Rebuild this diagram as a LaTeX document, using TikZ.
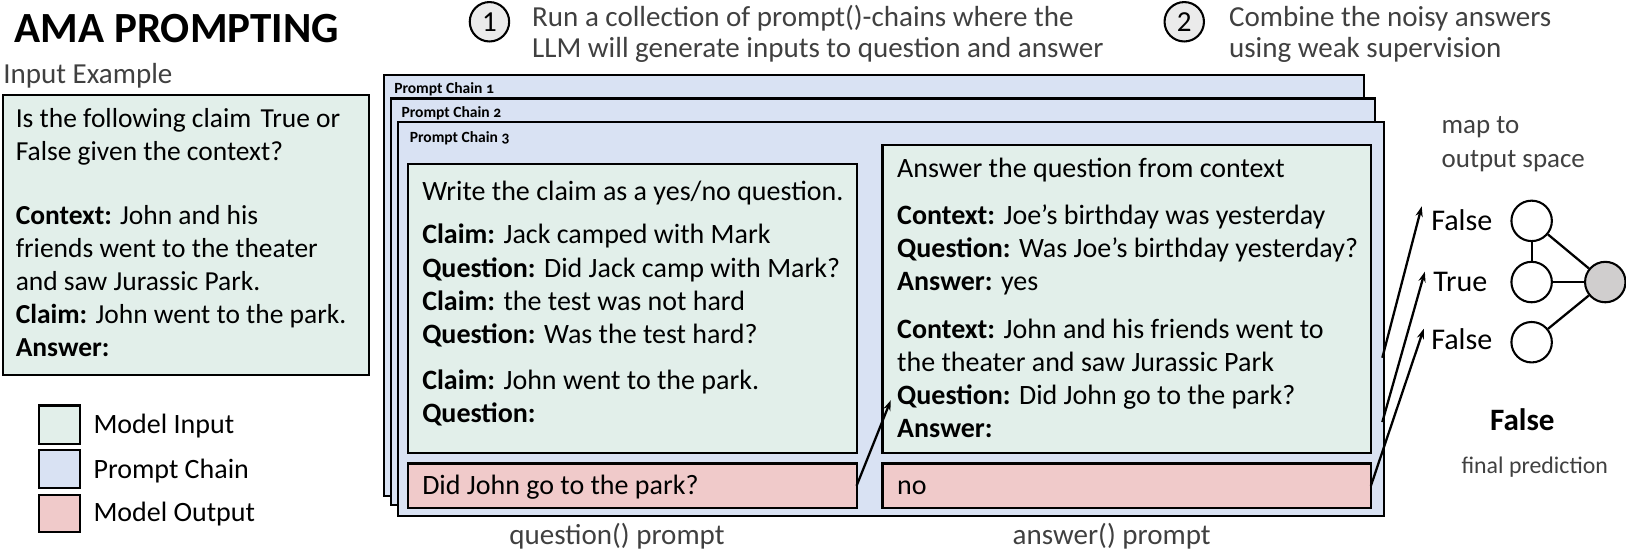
\documentclass[tikz,border=0pt]{standalone}
\usepackage{fontspec}
\setmainfont{Carlito}
\usetikzlibrary{arrows.meta}
\definecolor{inF}{HTML}{E2EFEA}
\definecolor{pcF}{HTML}{D9E2F3}
\definecolor{outF}{HTML}{F0CACA}
\definecolor{noteG}{HTML}{404040}
\definecolor{aggF}{HTML}{D0CECE}
\definecolor{numF}{HTML}{EBEBEB}
\begin{document}
\begin{tikzpicture}[x=1pt,y=-1pt,
  box/.style={draw=black, line width=2pt, outer sep=0pt, inner sep=0pt, anchor=north west},
  inbox/.style={box, fill=inF},
  pcbox/.style={box, fill=pcF},
  outbox/.style={box, fill=outF},
  body/.style={font=\fontsize{27}{32}\selectfont, inner sep=0pt, align=left, anchor=north west},
  line/.style={font=\fontsize{27}{32}\selectfont, inner sep=0pt, anchor=base west},
  note/.style={text=noteG, font=\fontsize{28}{30}\selectfont, inner sep=0pt},
  pclabel/.style={font=\fontsize{15}{17}\selectfont\bfseries, inner sep=0pt, anchor=base west},
  numcirc/.style={circle, draw=black, line width=2pt, fill=numF, minimum size=38pt, inner sep=0pt, font=\fontsize{28}{30}\selectfont},
  vote/.style={circle, draw=black, line width=2pt, fill=white, minimum size=39pt, inner sep=0pt},
  arr/.style={-{Stealth[length=10pt,width=7pt]}, line width=2.2pt},
  link/.style={line width=2.2pt}
]
\useasboundingbox (0,0) rectangle (1568,534);

% title and input example
\node[font=\fontsize{41.5}{44}\selectfont\bfseries, inner sep=0pt, anchor=base west] (title) at (14,41) {AMA PROMPTING};
\node[note, anchor=base west] (inlabel) at (3,81) {Input Example};
\node[inbox, minimum width=353pt, minimum height=270pt] (inbox) at (3,92) {};
\node[body, font=\fontsize{26.5}{32}\selectfont] (intext) at (15,100.6) {\strut Is the following claim\ \hspace{3pt}True or\\
False given the context?\\[29pt]
\textbf{Context:} John and his\\
friends went to the theater\\
and saw Jurassic Park.\\
\textbf{Claim:} John went to the park.\\
\textbf{Answer:}};

% legend
\node[inbox, minimum width=39pt, minimum height=37pt] (lg1) at (38,391) {};
\node[pcbox, minimum width=39pt, minimum height=37pt] (lg2) at (38,434) {};
\node[outbox, minimum width=39pt, minimum height=36pt] (lg3) at (38,477) {};
\node[font=\fontsize{27}{30}\selectfont, inner sep=0pt, anchor=base west] (lgt1) at (90,418) {Model Input};
\node[font=\fontsize{27}{30}\selectfont, inner sep=0pt, anchor=base west] (lgt2) at (90,461) {Prompt Chain};
\node[font=\fontsize{27}{30}\selectfont, inner sep=0pt, anchor=base west] (lgt3) at (90,503) {Model Output};

% step headers
\node[numcirc] (n1) at (472,21) {1};
\node[note, align=left, anchor=north west] (step1) at (513,4) {\strut Run a collection of prompt()-chains where the\\LLM will generate inputs to question and answer};
\node[numcirc] (n2) at (1142,21) {2};
\node[note, align=left, anchor=north west] (step2) at (1185,4) {\strut Combine the noisy answers\\using weak supervision};

% prompt chains
\node[pcbox, minimum width=945pt, minimum height=406pt] (pc1) at (370,72) {};
\node[pclabel] (pc1l) at (380,90) {Prompt Chain \addfontfeature{Numbers=OldStyle}1};
\node[pcbox, minimum width=949pt, minimum height=392pt] (pc2) at (377,95) {};
\node[pclabel] (pc2l) at (387,113) {Prompt Chain \addfontfeature{Numbers=OldStyle}2};
\node[pcbox, minimum width=951pt, minimum height=380pt] (pc3) at (384,118) {};
\node[pclabel] (pc3l) at (395,137) {Prompt Chain \addfontfeature{Numbers=OldStyle}3};

% question prompt
\node[inbox, minimum width=433pt, minimum height=279pt] (qbox) at (393,158) {};
\node[body] (qtext) at (407,170.6) {\strut Write the claim as a yes/no question.\\[10pt]
\textbf{Claim:} Jack camped with Mark\\
\textbf{Question:} Did Jack camp with Mark?\\
\textbf{Claim:} the test was not hard\\
\textbf{Question:} Was the test hard?\\[12pt]
\textbf{Claim:} John went to the park.\\
\textbf{Question:}};
\node[outbox, minimum width=433pt, minimum height=43pt] (qout) at (393,447) {};
\node[line] (qouttext) at (407,477) {Did John go to the park?};

% answer prompt
\node[inbox, minimum width=471pt, minimum height=297pt] (abox) at (851,140) {};
\node[body] (atext) at (865,148.6) {\strut Answer the question from context\\[13pt]
\textbf{Context:} Joe’s birthday was yesterday\\
\textbf{Question:} Was Joe’s birthday yesterday?\\
\textbf{Answer:} yes\\[14pt]
\textbf{Context:} John and his friends went to\\
the theater and saw Jurassic Park\\
\textbf{Question:} Did John go to the park?\\
\textbf{Answer:}};
\node[outbox, minimum width=471pt, minimum height=43pt] (aout) at (851,447) {};
\node[line] (aouttext) at (865,477) {no};

\coordinate (qaend) at (859,386);
\draw[arr] (qout.east) -- (qaend);

\node[note, anchor=base] (qcap) at (595,525) {question() prompt};
\node[note, anchor=base] (acap) at (1072,525) {answer() prompt};

% output mapping
\node[note, align=left, anchor=north west, font=\fontsize{26}{33}\selectfont] (mapto) at (1390,105) {\strut map to\\output space};
\node[font=\fontsize{29}{32}\selectfont, inner sep=0pt, anchor=base west] (f1) at (1380,222) {False};
\node[font=\fontsize{29}{32}\selectfont, inner sep=0pt, anchor=base west] (t1l) at (1382,281) {True};
\node[font=\fontsize{29}{32}\selectfont, inner sep=0pt, anchor=base west] (f3) at (1380,337) {False};

\coordinate (s1) at (1333,345);
\coordinate (e1) at (1371,199);
\coordinate (s2) at (1333,407);
\coordinate (e2) at (1374,262);
\coordinate (e3) at (1373,317);
\draw[arr] (s1) -- (e1);
\draw[arr] (s2) -- (e2);
\draw[arr] (aout.east) -- (e3);

\node[vote] (c1) at (1477,213) {};
\node[vote] (c2) at (1477,272) {};
\node[vote] (c3) at (1477,330) {};
\node[vote, fill=aggF] (agg) at (1548,272) {};
\draw[link] (c1) -- (c2);
\draw[link] (c2) -- (agg);
\draw[link] (c1) -- (agg);
\draw[link] (c3) -- (agg);

\node[font=\fontsize{30}{32}\selectfont\bfseries, inner sep=0pt, anchor=base] (final) at (1468,415) {False};
\node[note, anchor=base, font=\fontsize{23}{26}\selectfont] (finlab) at (1480,457) {final prediction};
\end{tikzpicture}
\end{document}
